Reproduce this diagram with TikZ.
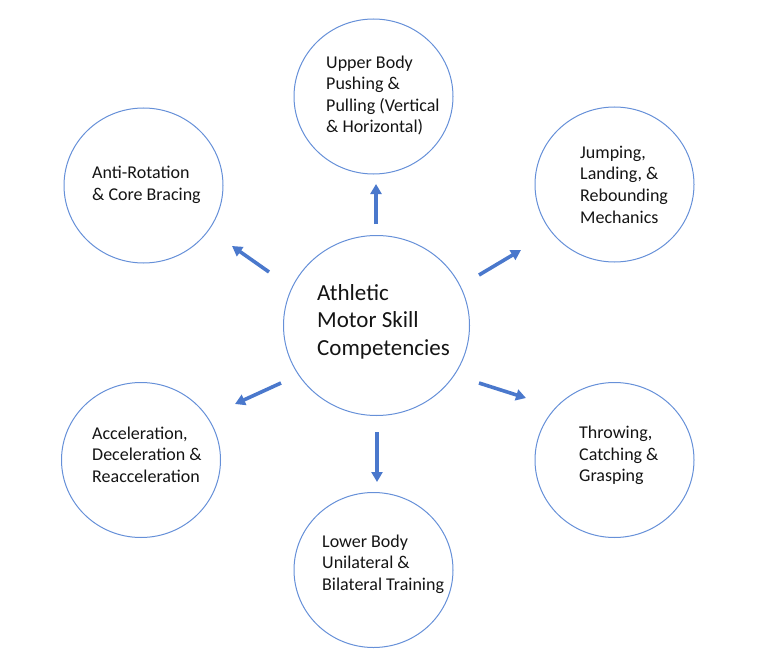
\documentclass[tikz,border=0pt]{standalone}
\usepackage{fontspec}
\setmainfont{Carlito}
\usetikzlibrary{arrows.meta,shapes.geometric}
\definecolor{ringblue}{HTML}{6690D8}
\definecolor{arrowblue}{HTML}{4A78CC}
\begin{document}
\begin{tikzpicture}[x=1pt,y=-1pt,
  ring/.style={draw=ringblue, line width=1pt, ellipse, minimum width=159pt, minimum height=155pt, inner sep=0pt},
  bigring/.style={ring, minimum width=186pt, minimum height=180pt},
  lbl/.style={align=left, anchor=west, inner sep=0pt, font=\fontsize{18}{21.6}\selectfont, text=black!92},
  biglbl/.style={lbl, font=\fontsize{23}{27.5}\selectfont},
  arr/.style={draw=arrowblue, line width=3.6pt, -{Triangle[length=10pt,width=11pt]}}]
\useasboundingbox (0,0) rectangle (768,658);
% circles
\node[bigring] (c)  at (376.5,325.5) {};
\node[ring]    (t)  at (373.5,96.5) {};
\node[ring]    (tr) at (614.5,184.5) {};
\node[ring]    (tl) at (143.5,185.5) {};
\node[ring]    (bl) at (141,460) {};
\node[ring]    (br) at (614.5,460) {};
\node[ring]    (b)  at (373.5,570) {};
% texts
\node[biglbl] (ct)  at (317,321.5) {Athletic\\Motor Skill\\Competencies};
\node[lbl]    (tt)  at (326,95.5) {Upper Body\\Pushing \&\\Pulling (Vertical\\\& Horizontal)};
\node[lbl]    (trt) at (580,184.5) {Jumping,\\Landing, \&\\Rebounding\\Mechanics};
\node[lbl]    (tlt) at (92,185) {Anti-Rotation\\\& Core Bracing};
\node[lbl]    (blt) at (92,454.5) {Acceleration,\\Deceleration \&\\Reacceleration};
\node[lbl]    (brt) at (579,455.5) {Throwing,\\Catching \&\\Grasping};
\node[lbl]    (bt)  at (322,564) {Lower Body\\Unilateral \&\\Bilateral Training};
% arrow ends
\coordinate (a1s) at (376,224); \coordinate (a1e) at (376,184);
\coordinate (a2s) at (479,275); \coordinate (a2e) at (521,250);
\coordinate (a3s) at (269,272); \coordinate (a3e) at (232,246);
\coordinate (a4s) at (281,383); \coordinate (a4e) at (235,404);
\coordinate (a5s) at (479,383); \coordinate (a5e) at (526,398);
\coordinate (a6s) at (377,432); \coordinate (a6e) at (377,482);
\draw[arr] (a1s) -- (a1e);
\draw[arr] (a2s) -- (a2e);
\draw[arr] (a3s) -- (a3e);
\draw[arr] (a4s) -- (a4e);
\draw[arr] (a5s) -- (a5e);
\draw[arr] (a6s) -- (a6e);
\end{tikzpicture}
\end{document}
